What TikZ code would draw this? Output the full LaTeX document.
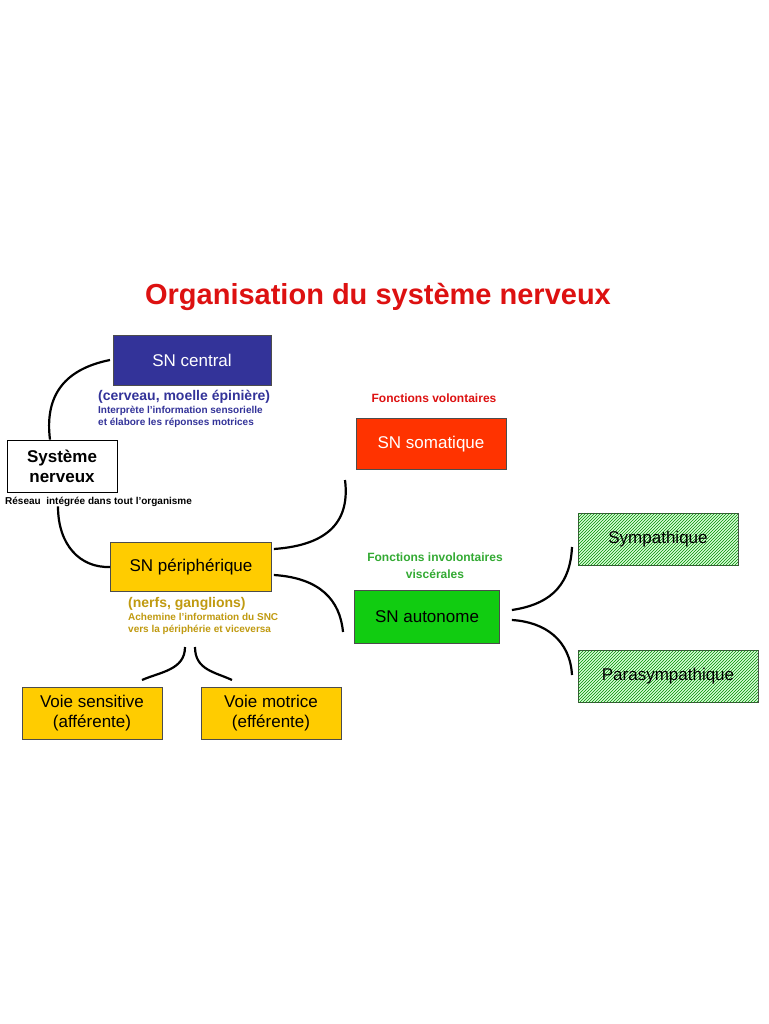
\documentclass[tikz,border=0pt]{standalone}
\usepackage{fontspec}
\setmainfont{Liberation Sans}
\usetikzlibrary{patterns}
\definecolor{tred}{HTML}{DD1111}
\definecolor{cblue}{HTML}{333399}
\definecolor{cyel}{HTML}{FFCC00}
\definecolor{tyel}{HTML}{C09A10}
\definecolor{cred}{HTML}{FF3300}
\definecolor{cgreen}{HTML}{11CC11}
\definecolor{tgreen}{HTML}{33AA33}
\begin{document}
\begin{tikzpicture}[x=1pt,y=-1pt,
  box/.style={draw=gray!60!black,line width=0.8pt,inner sep=0pt,font=\fontsize{17}{20}\selectfont},
  hatch/.style={box,fill=green!15,postaction={pattern=north east lines,pattern color=green!55!black}},
  link/.style={line width=2.2pt,black},
  small/.style={font=\bfseries\fontsize{10}{12}\selectfont,align=left,inner sep=0pt}]
\useasboundingbox[fill=white] (0,0) rectangle (768,1024);
\node[font=\bfseries\fontsize{29}{34}\selectfont,text=tred] (title) at (378,297) {Organisation du système nerveux};
\node[box,fill=cblue,text=white,minimum width=158,minimum height=50] (cen) at (192,360) {SN central};
\node[small,text=cblue,anchor=north west] (cent) at (98,390) {{\fontsize{14}{16}\selectfont (cerveau, moelle épinière)}\\[1pt]Interprète l'information sensorielle\\et élabore les réponses motrices};
\node[box,fill=white,draw=black,minimum width=110,minimum height=52,align=center,font=\bfseries\fontsize{17}{20}\selectfont] (sys) at (62,466) {Système\\nerveux};
\node[small,anchor=west] (res) at (5,502) {Réseau \ intégrée dans tout l'organisme};
\node[box,fill=cyel,minimum width=161,minimum height=49] (per) at (191,567) {SN périphérique};
\node[small,text=tyel,anchor=north west] (pert) at (128,597) {{\fontsize{14}{16}\selectfont (nerfs, ganglions)}\\[1pt]Achemine l'information du SNC\\vers la périphérie et viceversa};
\node[box,fill=cyel,minimum width=140,minimum height=52,align=center] (sen) at (92,713) {Voie sensitive\\(afférente)};
\node[box,fill=cyel,minimum width=140,minimum height=52,align=center] (mot) at (271,713) {Voie motrice\\(efférente)};
\node[font=\bfseries\fontsize{12}{14}\selectfont,text=tred] (vol) at (434,398) {Fonctions volontaires};
\node[box,fill=cred,text=white,minimum width=150,minimum height=51] (som) at (431,444) {SN somatique};
\node[font=\bfseries\fontsize{12}{17}\selectfont,text=tgreen,align=center] (inv) at (435,566) {Fonctions involontaires\\viscérales};
\node[box,fill=cgreen,minimum width=145,minimum height=53] (aut) at (427,617) {SN autonome};
\node[hatch,minimum width=160,minimum height=52] (sym) at (658,539) {Sympathique};
\node[hatch,minimum width=180,minimum height=52] (par) at (668,676) {Parasympathique};
\coordinate (a1) at (110,360);
\draw[link] (a1) .. controls (60,370) and (45,400) .. (sys.north -| 50,0);
\draw[link] (sys.south -| 58,0) ++(0,14) .. controls (58,545) and (80,568) .. (per.west);
\draw[link] (per.east) ++(2,-18) .. controls (330,545) and (350,520) .. (345,480);
\draw[link] (per.east) ++(2,8) .. controls (320,578) and (340,600) .. (343,632);
\draw[link] (aut.east) ++(12,-7) .. controls (545,605) and (570,590) .. (572,547);
\draw[link] (aut.east) ++(12,3) .. controls (545,622) and (570,640) .. (572,675);
\draw[link] (185,647) .. controls (185,670) and (160,672) .. (142,680);
\draw[link] (195,647) .. controls (195,670) and (215,672) .. (232,680);
\end{tikzpicture}
\end{document}
